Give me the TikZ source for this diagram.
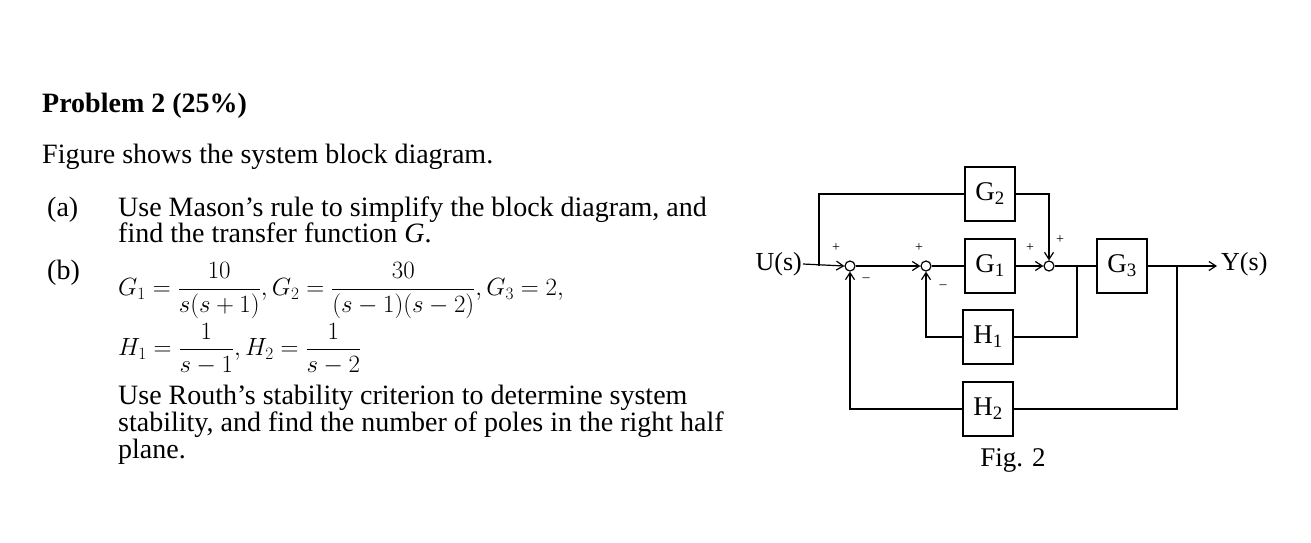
\documentclass[tikz,border=0pt]{standalone}
\usepackage{fontspec}
\setmainfont{Liberation Serif}
\usepackage{amsmath}
\usetikzlibrary{arrows.meta}
\begin{document}
\begin{tikzpicture}[x=1pt,y=-1pt,
  blk/.style={draw,line width=1.2pt,minimum width=50pt,minimum height=54pt,inner sep=0pt,font=\fontsize{27}{30}\selectfont},
  sumc/.style={draw,circle,line width=1.2pt,minimum size=10pt,inner sep=0pt},
  ln/.style={line width=1.2pt},
  arr/.style={ln,-{Straight Barb[length=7pt,width=9pt,line width=1.2pt]}},
  sg/.style={font=\fontsize{14}{16}\selectfont,inner sep=0pt},
  txt/.style={anchor=base west,inner sep=0pt,font=\fontsize{28}{30}\selectfont}]
\useasboundingbox (0,0) rectangle (1311,542);
% text
\node[txt,font=\fontsize{28}{30}\selectfont\bfseries] (t0) at (42,112) {Problem 2 (25\%)};
\node[txt] (t1) at (42,163) {Figure shows the system block diagram.};
\node[txt] (t2) at (47,216) {(a)};
\node[txt] (t3) at (118,216) {Use Mason’s rule to simplify the block diagram, and};
\node[txt] (t4) at (118,242) {find the transfer function \textit{G}.};
\node[txt] (t5) at (47,279) {(b)};
\node[txt,anchor=west,font=\fontsize{24}{28}\selectfont] (e1) at (118,291) {$G_1=\dfrac{10}{s(s+1)},G_2=\dfrac{30}{(s-1)(s-2)},G_3=2,$};
\node[txt,anchor=west,font=\fontsize{24}{28}\selectfont] (e2) at (118,349) {$H_1=\dfrac{1}{s-1},H_2=\dfrac{1}{s-2}$};
\node[txt] (t6) at (118,404) {Use Routh’s stability criterion to determine system};
\node[txt] (t7) at (118,431) {stability, and find the number of poles in the right half};
\node[txt] (t8) at (118,458) {plane.};
% diagram
\node[sumc] (s1) at (850,266) {};
\node[sumc] (s2) at (926,266) {};
\node[sumc] (s3) at (1049,266) {};
\node[blk] (G1) at (990,266) {G\textsubscript{1}};
\node[blk] (G2) at (990,194) {G\textsubscript{2}};
\node[blk] (G3) at (1122,266) {G\textsubscript{3}};
\node[blk] (H1) at (988,337) {H\textsubscript{1}};
\node[blk] (H2) at (988,409) {H\textsubscript{2}};
\node[font=\fontsize{26}{30}\selectfont,anchor=east,inner sep=1pt] (U) at (803,264) {U(s)};
\node[font=\fontsize{26}{30}\selectfont,anchor=west,inner sep=1pt] (Y) at (1220,264) {Y(s)};
\node[font=\fontsize{27}{30}\selectfont] (fig) at (1013,460) {Fig. 2};
\coordinate (b0) at (819,266);
\coordinate (b1) at (1077,266);
\coordinate (b2) at (1177,266);
\draw[arr] (U.east) -- (s1.west);
\draw[arr] (s1.east) -- (s2.west);
\draw[ln] (s2.east) -- (G1.west);
\draw[arr] (G1.east) -- (s3.west);
\draw[ln] (s3.east) -- (G3.west);
\draw[arr] (G3.east) -- (1217,266);
\draw[ln] (b0) |- (G2.west);
\draw[arr] (G2.east) -| (s3.north);
\draw[ln] (b1) |- (H1.east);
\draw[arr] (H1.west) -| (s2.south);
\draw[ln] (b2) |- (H2.east);
\draw[arr] (H2.west) -| (s1.south);
\node[sg] at (836,248) {+};
\node[sg] at (866,280) {\textendash};
\node[sg] at (919,248) {+};
\node[sg] at (943,287) {\textendash};
\node[sg] at (1030,248) {+};
\node[sg] at (1060,240) {+};
\end{tikzpicture}
\end{document}
